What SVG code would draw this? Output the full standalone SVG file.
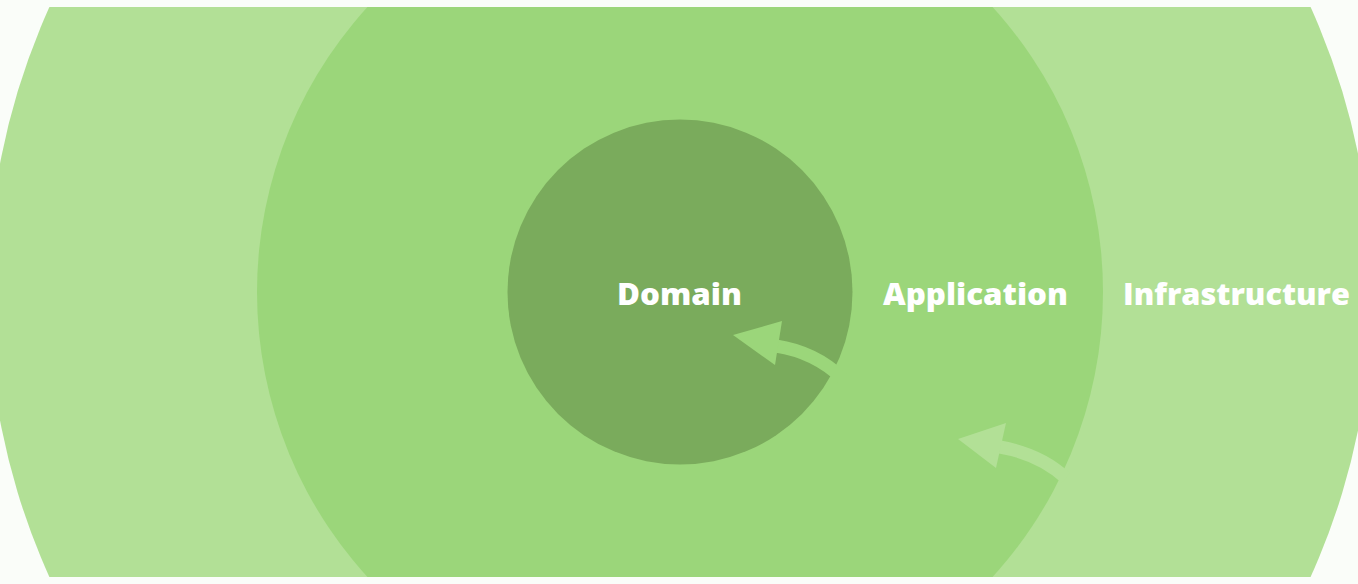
<svg xmlns="http://www.w3.org/2000/svg" width="1358" height="584" viewBox="0 0 1358 584">
  <defs>
    <clipPath id="band">
      <rect x="0" y="7" width="1358" height="570"/>
    </clipPath>
    <style>
      .label { font-family: "Open Sans", "Noto Sans", sans-serif; font-weight: 800; font-size: 30px; fill: #ffffff; }
      .shaft { fill: none; stroke-width: 13; stroke-linecap: butt; }
    </style>
  </defs>
  <rect x="0" y="0" width="1358" height="584" fill="#fafdf9"/>
  <g clip-path="url(#band)">
    <g id="infrastructure">
      <circle cx="680" cy="292" r="692" fill="#b2e096"/>
    </g>
    <g id="application">
      <circle cx="680" cy="292" r="423" fill="#9bd67a"/>
    </g>
    <g id="domain">
      <circle cx="680" cy="292" r="172.5" fill="#7aab5c"/>
    </g>
  </g>
  <g id="connectors">
    <g id="arrow-app-domain">
      <path class="shaft" d="M 842 378 Q 815 352 776 346" stroke="#9bd67a"/>
      <polygon points="733,335 782,321 775,365" fill="#9bd67a"/>
    </g>
    <g id="arrow-infra-app">
      <path class="shaft" d="M 1066 478 Q 1040 454 1000 447" stroke="#b2e096"/>
      <polygon points="958,439 1006,423 996,468" fill="#b2e096"/>
    </g>
  </g>
  <g id="labels">
    <text class="label" x="617" y="305" textLength="125" lengthAdjust="spacingAndGlyphs">Domain</text>
    <text class="label" x="883" y="305" textLength="185" lengthAdjust="spacingAndGlyphs">Application</text>
    <text class="label" x="1123" y="305" textLength="227" lengthAdjust="spacingAndGlyphs">Infrastructure</text>
  </g>
</svg>
